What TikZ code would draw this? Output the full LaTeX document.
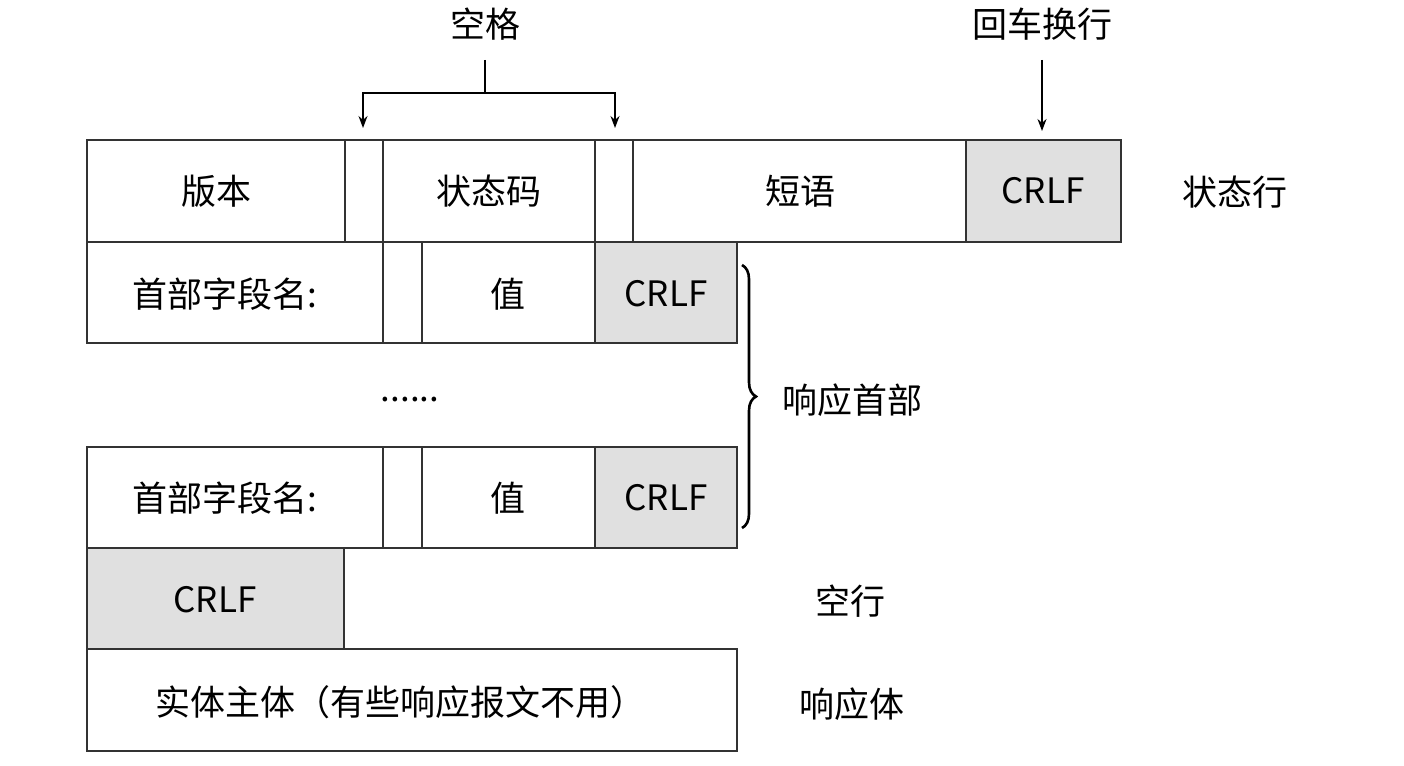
\documentclass[tikz,border=0pt]{standalone}
\usepackage{fontspec}
\setmainfont{Noto Sans CJK SC}
\usetikzlibrary{decorations.pathreplacing,arrows.meta}
\begin{document}
\begin{tikzpicture}[x=1pt,y=-1pt,
  cell/.style={draw=black!80,line width=1.2pt},
  gray/.style={cell,fill=black!12},
  t/.style={font=\fontsize{35}{40}\selectfont,inner sep=0pt},
  arr/.style={line width=1.5pt,-{Stealth[length=12pt,width=9pt]}}]
\useasboundingbox (0,0) rectangle (1404,765);
% row 1
\draw[cell] (87,140) rectangle (345,242); \node[t] (v) at (216,191) {版本};
\draw[cell] (345,140) rectangle (383,242);
\draw[cell] (383,140) rectangle (595,242); \node[t] (s) at (489,191) {状态码};
\draw[cell] (595,140) rectangle (633,242);
\draw[cell] (633,140) rectangle (966,242); \node[t] (p) at (800,191) {短语};
\draw[gray] (966,140) rectangle (1121,242); \node[t] (c1) at (1043,191) {CRLF};
\node[t] (l1) at (1235,192) {状态行};
% row 2
\draw[cell] (87,242) rectangle (383,343); \node[t] (h1) at (225,294) {首部字段名:};
\draw[cell] (383,242) rectangle (422,343);
\draw[cell] (422,242) rectangle (595,343); \node[t] (z1) at (508,294) {值};
\draw[gray] (595,242) rectangle (737,343); \node[t] (c2) at (666,294) {CRLF};
\node[t] (dots) at (410,400) {......};
% row 3
\draw[cell] (87,447) rectangle (383,548); \node[t] (h2) at (225,498) {首部字段名:};
\draw[cell] (383,447) rectangle (422,548);
\draw[cell] (422,447) rectangle (595,548); \node[t] (z2) at (508,498) {值};
\draw[gray] (595,447) rectangle (737,548); \node[t] (c3) at (666,498) {CRLF};
% row 4
\draw[gray] (87,548) rectangle (344,649); \node[t] (c4) at (215,600) {CRLF};
\node[t] (l4) at (850,601) {空行};
% row 5
\draw[cell] (87,649) rectangle (737,751); \node[t] (b) at (400,702) {实体主体（有些响应报文不用）};
\node[t] (l5) at (852,704) {响应体};
% brace
\coordinate (bt) at (742,265); \coordinate (bb) at (742,528);
\draw[line width=2.6pt,decorate,decoration={brace,amplitude=14pt}] (bt) -- (bb);
\node[t] (l3) at (852,400) {响应首部};
% top labels
\node[t] (sp) at (485,24) {空格};
\coordinate (s0) at (485,60); \coordinate (s1) at (485,93);
\coordinate (sl) at (363,93); \coordinate (sr) at (615,93);
\coordinate (slb) at (363,128); \coordinate (srb) at (615,128);
\draw[line width=1.5pt] (s0) -- (s1);
\draw[arr] (s1) -- (sl) -- (slb);
\draw[arr] (s1) -- (sr) -- (srb);
\node[t] (cr) at (1042,24) {回车换行};
\coordinate (r0) at (1042,60); \coordinate (r1) at (1042,131);
\draw[arr] (r0) -- (r1);
\end{tikzpicture}
\end{document}
